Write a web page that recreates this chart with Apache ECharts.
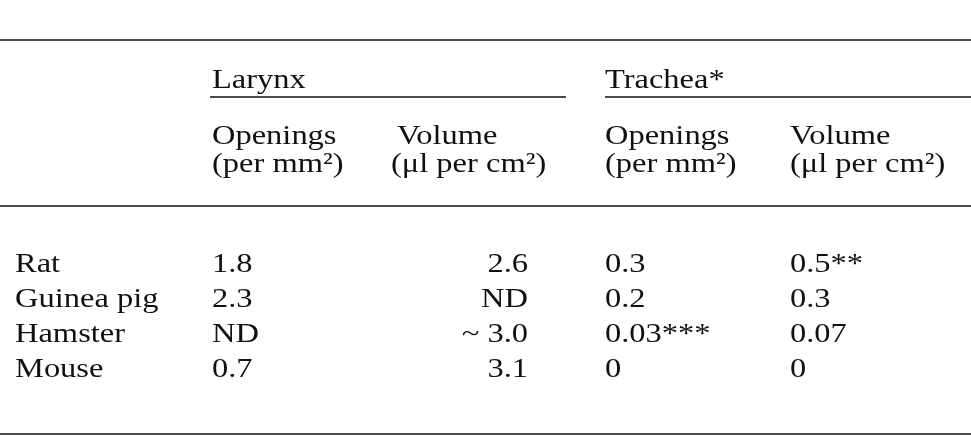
<!DOCTYPE html>
<html><head><meta charset="utf-8">
<script src="https://cdn.jsdelivr.net/npm/echarts@6/dist/echarts.min.js"></script>
<style>html,body{margin:0;padding:0;background:#fff}#c{width:971px;height:437px}</style>
</head><body><div id="c"></div>
<script>
const groups = ["Larynx", "Trachea*"];
const headerLine1 = ["Openings", "Volume", "Openings", "Volume"];
const headerLine2 = ["(per mm²)", "(μl per cm²)", "(per mm²)", "(μl per cm²)"];
const species = ["Rat", "Guinea pig", "Hamster", "Mouse"];
const larynxOpenings = ["1.8", "2.3", "ND", "0.7"];
const larynxVolume = ["2.6", "ND", "~ 3.0", "3.1"];
const tracheaOpenings = ["0.3", "0.2", "0.03***", "0"];
const tracheaVolume = ["0.5**", "0.3", "0.07", "0"];

const font = '"Liberation Serif", "DejaVu Serif", serif';
const fs = 28;
const sx = 1.16;
const colX = [212, 528, 605, 790];
const colAlign = ['left', 'right', 'left', 'left'];
const hdrX = [212, 391, 605, 790];
const rowY = [265, 300, 335, 370];
const els = [];
function txt(x, y, s, align) {
  els.push({type:'text', x:x, y:y, scaleX:sx, style:{text:s, font: fs + 'px ' + font, fill:'#111', textAlign:align||'left', textVerticalAlign:'middle'}});
}
function line(x1, y1, x2, y2) {
  els.push({type:'line', shape:{x1:x1,y1:y1,x2:x2,y2:y2}, style:{stroke:'#111', lineWidth:1.5}});
}
line(0, 40, 971, 40);
line(0, 206, 971, 206);
line(0, 434, 971, 434);
txt(212, 81, groups[0]); txt(605, 81, groups[1]);
line(210, 97, 566, 97); line(605, 97, 971, 97);
headerLine1.forEach((s, i) => txt(hdrX[i] + (i===1?6:0), 137, s));
headerLine2.forEach((s, i) => txt(hdrX[i], 165, s));
const cols = [larynxOpenings, larynxVolume, tracheaOpenings, tracheaVolume];
species.forEach((s, r) => {
  txt(15, rowY[r], s);
  cols.forEach((c, i) => txt(colX[i], rowY[r], c[r], colAlign[i]));
});
const chart = echarts.init(document.getElementById('c'));
chart.setOption({animation:false, graphic: els});
</script></body></html>
